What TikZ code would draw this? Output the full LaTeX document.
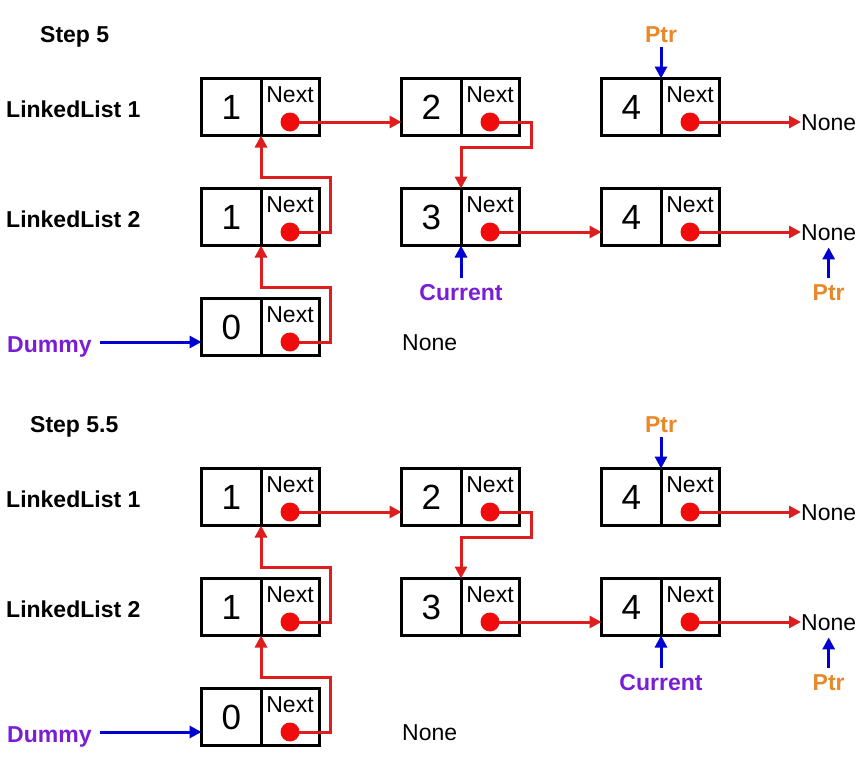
\documentclass[tikz,border=0pt]{standalone}
\usepackage{fontspec}
\setmainfont{Liberation Sans}
\usetikzlibrary{arrows.meta}
\definecolor{lred}{RGB}{222,30,30}
\definecolor{dred}{RGB}{240,12,12}
\definecolor{pblue}{RGB}{0,0,210}
\definecolor{lpurple}{RGB}{122,30,214}
\definecolor{lorange}{RGB}{233,136,40}
\tikzset{
 cell/.style={draw=black, line width=3pt, rectangle, inner sep=0pt, outer sep=0pt, minimum height=57pt},
 valcell/.style={cell, minimum width=59.5pt, font=\fontsize{35}{40}\selectfont},
 nextcell/.style={cell, minimum width=58pt},
 nexttxt/.style={anchor=base, inner sep=0pt, font=\fontsize{23}{27}\selectfont},
 reddot/.style={circle, fill=dred, minimum size=19pt, inner sep=0pt},
 link/.style={draw=lred, line width=3pt, -{Triangle[length=12pt,width=12pt]}},
 ptrarrow/.style={draw=pblue, line width=3pt, -{Triangle[length=12pt,width=12pt]}},
 lbl/.style={anchor=base west, inner sep=0pt, font=\fontsize{23}{27}\selectfont\bfseries},
 plain/.style={anchor=base west, inner sep=0pt, font=\fontsize{23}{27}\selectfont},
 ptrlbl/.style={anchor=base, inner sep=0pt, text=lorange, font=\fontsize{23}{27}\selectfont\bfseries},
 curlbl/.style={anchor=base, inner sep=0pt, text=lpurple, font=\fontsize{23}{27}\selectfont\bfseries},
}
\begin{document}
\begin{tikzpicture}[x=1pt,y=-1pt]
\useasboundingbox (0,0) rectangle (865,761);
\foreach \p/\o/\st/\sx/\cx/\cc in {A/0/Step 5/40/461/2,B/390/Step 5.5/30/661/3}{
 \foreach \rr/\kk/\vv in {1/1/1,1/2/2,1/3/4,2/1/1,2/2/3,2/3/4,3/1/0}{
   \pgfmathsetmacro\yy{107+110*(\rr-1)+\o}
   \pgfmathsetmacro\xx{200*\kk}
   \node[valcell] (\p\rr\kk v) at (\xx+31.25,\yy) {\vv};
   \node[nextcell] (\p\rr\kk n) at (\xx+90,\yy) {};
   \node[nexttxt] (\p\rr\kk t) at (\xx+90,\yy-5) {Next};
   \coordinate (\p\rr\kk d) at (\xx+90,\yy+15);
 }
 \node[lbl] (\p S) at (\sx,42+\o) {\st};
 \node[lbl] (\p L1) at (6,117+\o) {LinkedList 1};
 \node[lbl] (\p L2) at (6,227+\o) {LinkedList 2};
 \node[lbl, text=lpurple] (\p D) at (7,352+\o) {Dummy};
 \coordinate (\p Ds) at (100,342+\o);
 \node[plain] (\p N1) at (801,130+\o) {None};
 \node[plain] (\p N2) at (801,240+\o) {None};
 \node[plain] (\p N3) at (402,350+\o) {None};
 % red links
 \draw[link] (\p11d) -- (\p12v.west |- \p11d);
 \draw[link] (\p12d) -- ++(41,0) -- ++(0,25) -| (\p22v.north east);
 \draw[link] (\p21d) -- ++(40,0) -- ++(0,-55) -| (\p11v.south east);
 \draw[link] (\p31d) -- ++(40,0) -- ++(0,-55) -| (\p21v.south east);
 \draw[link] (\p22d) -- (\p23v.west |- \p22d);
 \draw[link] (\p13d) -- (\p N1.west |- \p13d);
 \draw[link] (\p23d) -- (\p N2.west |- \p23d);
 % dots
 \foreach \rr/\kk in {1/1,1/2,1/3,2/1,2/2,2/3,3/1}{
   \node[reddot] (\p\rr\kk dot) at (\p\rr\kk d) {};
 }
 % pointers
 \node[ptrlbl] (\p P1) at (661,42+\o) {Ptr};
 \draw[ptrarrow] ([yshift=-5pt]\p P1.south) -- (\p13v.north east);
 \node[ptrlbl] (\p P2) at ([yshift=-60pt]\p N2.base) {Ptr};
 \draw[ptrarrow] ([yshift=6pt]\p P2.north) -- ([yshift=-7pt]\p N2.south);
 \node[curlbl] (\p C) at (\cx,300+\o) {Current};
 \draw[ptrarrow] ([yshift=6pt]\p C.north) -- (\p2\cc v.south east);
 \draw[ptrarrow] (\p Ds) -- (\p31v.west |- \p Ds);
}
\end{tikzpicture}
\end{document}
